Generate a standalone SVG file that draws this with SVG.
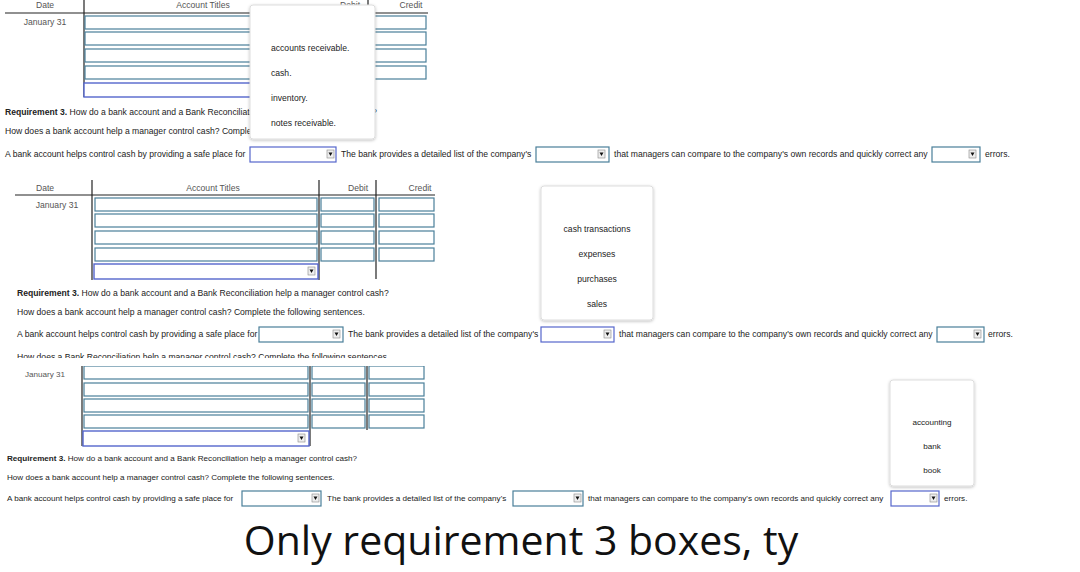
<svg xmlns="http://www.w3.org/2000/svg" width="1080" height="572" viewBox="0 0 1080 572">
<style>
text{font-family:"Liberation Sans",Arial,sans-serif;font-size:8.6px;fill:#222}
#panel3 text,#popup3 text{font-size:8.1px}
.h{fill:#555}
.in{fill:#fff;stroke:#4a7f99;stroke-width:1.2}
.sel{fill:#fff;stroke:#5566cc;stroke-width:1.4}
.dd{fill:#fff;stroke:#5566cc;stroke-width:1.2}
.ln{stroke:#222;stroke-width:1.2}
.pop{fill:#fff;stroke:#ddd;stroke-width:1;filter:url(#sh)}
.big{font-family:"Open Sans",sans-serif;font-size:41px;fill:#111}
</style>
<defs>
<filter id="sh" x="-10%" y="-10%" width="120%" height="120%"><feDropShadow dx="0" dy="1" stdDeviation="1.5" flood-color="#000" flood-opacity="0.25"/></filter>
<g id="arr"><rect x="0" y="0" width="7" height="8" fill="#eee" stroke="#888" stroke-width="0.6"/><path d="M1.5 2.5h4l-2 3.5z" fill="#111"/></g>
<clipPath id="c2"><rect x="0" y="0" width="1080" height="358"/></clipPath>
<clipPath id="c3"><rect x="0" y="366" width="1080" height="200"/></clipPath>
</defs>
<rect width="1080" height="572" fill="#fff"/>

<g id="panel1">
<text x="45" y="8" text-anchor="middle" class="h">Date</text>
<text x="203" y="8" text-anchor="middle" class="h">Account Titles</text>
<text x="350" y="8" text-anchor="middle" class="h">Debit</text>
<text x="411" y="8" text-anchor="middle" class="h">Credit</text>
<line x1="5" y1="13" x2="428" y2="13" class="ln"/>
<line x1="84" y1="0" x2="84" y2="97" class="ln"/>
<line x1="368" y1="0" x2="368" y2="97" class="ln"/>
<text x="45" y="25" text-anchor="middle" class="h">January 31</text>
<rect x="85" y="16" width="280" height="13" class="in"/><rect x="371" y="16" width="55" height="13" class="in"/>
<rect x="85" y="32" width="280" height="13" class="in"/><rect x="371" y="32" width="55" height="13" class="in"/>
<rect x="85" y="49" width="280" height="13" class="in"/><rect x="371" y="49" width="55" height="13" class="in"/>
<rect x="85" y="66" width="280" height="13" class="in"/><rect x="371" y="66" width="55" height="13" class="in"/>
<rect x="84" y="83" width="282" height="14" class="sel"/>
<text x="5" y="115"><tspan font-weight="bold">Requirement 3.</tspan> How do a bank account and a Bank Reconciliation help a manager control cash?</text>
<text x="5" y="134">How does a bank account help a manager control cash? Complete the following sentences.</text>
<text x="5" y="157">A bank account helps control cash by providing a safe place for</text>
<rect x="250" y="147" width="86" height="15" class="dd"/><use href="#arr" x="327" y="150"/>
<text x="341" y="157">The bank provides a detailed list of the company's</text>
<rect x="536" y="147" width="73" height="15" class="in"/><use href="#arr" x="598" y="150"/>
<text x="614" y="157">that managers can compare to the company's own records and quickly correct any</text>
<rect x="932" y="147" width="48" height="15" class="in"/><use href="#arr" x="969" y="150"/>
<text x="985" y="157">errors.</text>
</g>
<g id="popup1">
<rect x="250" y="5" width="125" height="134" rx="3" class="pop"/>
<text x="271" y="51">accounts receivable.</text>
<text x="271" y="76">cash.</text>
<text x="271" y="101">inventory.</text>
<text x="271" y="126">notes receivable.</text>
</g>

<g id="panel2" clip-path="url(#c2)">
<text x="45" y="191" text-anchor="middle" class="h">Date</text>
<text x="213" y="191" text-anchor="middle" class="h">Account Titles</text>
<text x="358" y="191" text-anchor="middle" class="h">Debit</text>
<text x="420" y="191" text-anchor="middle" class="h">Credit</text>
<line x1="15" y1="195" x2="435" y2="195" class="ln"/>
<line x1="92" y1="180" x2="92" y2="280" class="ln"/>
<line x1="319" y1="180" x2="319" y2="280" class="ln"/>
<line x1="376" y1="180" x2="376" y2="279" class="ln"/>
<text x="57" y="208" text-anchor="middle" class="h">January 31</text>
<rect x="95" y="198" width="222" height="13" class="in"/><rect x="321" y="198" width="53" height="13" class="in"/><rect x="379" y="198" width="55" height="13" class="in"/>
<rect x="95" y="214" width="222" height="13" class="in"/><rect x="321" y="214" width="53" height="13" class="in"/><rect x="379" y="214" width="55" height="13" class="in"/>
<rect x="95" y="231" width="222" height="13" class="in"/><rect x="321" y="231" width="53" height="13" class="in"/><rect x="379" y="231" width="55" height="13" class="in"/>
<rect x="95" y="248" width="222" height="13" class="in"/><rect x="321" y="248" width="53" height="13" class="in"/><rect x="379" y="248" width="55" height="13" class="in"/>
<rect x="94" y="264" width="224" height="15" class="sel"/><use href="#arr" x="308" y="267"/>
<text x="17" y="296"><tspan font-weight="bold">Requirement 3.</tspan> How do a bank account and a Bank Reconciliation help a manager control cash?</text>
<text x="17" y="315">How does a bank account help a manager control cash? Complete the following sentences.</text>
<text x="17" y="337">A bank account helps control cash by providing a safe place for</text>
<rect x="259" y="327" width="84" height="15" class="in"/><use href="#arr" x="333" y="330"/>
<text x="348" y="337">The bank provides a detailed list of the company's</text>
<rect x="541" y="327" width="73" height="15" class="dd"/><use href="#arr" x="604" y="330"/>
<text x="619" y="337">that managers can compare to the company's own records and quickly correct any</text>
<rect x="937" y="327" width="47" height="15" class="in"/><use href="#arr" x="974" y="330"/>
<text x="988" y="337">errors.</text>
<text x="17" y="360">How does a Bank Reconciliation help a manager control cash? Complete the following sentences.</text>
</g>
<g id="popup2">
<rect x="541" y="186" width="112" height="134" rx="3" class="pop"/>
<text x="597" y="232" text-anchor="middle">cash transactions</text>
<text x="597" y="257" text-anchor="middle">expenses</text>
<text x="597" y="282" text-anchor="middle">purchases</text>
<text x="597" y="307" text-anchor="middle">sales</text>
</g>

<g id="panel3" clip-path="url(#c3)">
<text x="45" y="377" text-anchor="middle" class="h">January 31</text>
<line x1="82" y1="366" x2="82" y2="446" class="ln"/>
<line x1="310" y1="366" x2="310" y2="446" class="ln"/>
<line x1="367" y1="366" x2="367" y2="430" class="ln"/>
<rect x="84" y="366" width="224" height="13" class="in"/><rect x="312" y="366" width="53" height="13" class="in"/><rect x="369" y="366" width="55" height="13" class="in"/>
<rect x="84" y="383" width="224" height="13" class="in"/><rect x="312" y="383" width="53" height="13" class="in"/><rect x="369" y="383" width="55" height="13" class="in"/>
<rect x="84" y="399" width="224" height="13" class="in"/><rect x="312" y="399" width="53" height="13" class="in"/><rect x="369" y="399" width="55" height="13" class="in"/>
<rect x="84" y="415" width="224" height="13" class="in"/><rect x="312" y="415" width="53" height="13" class="in"/><rect x="369" y="415" width="55" height="13" class="in"/>
<rect x="83" y="431" width="226" height="15" class="sel"/><use href="#arr" x="298" y="434"/>
<text x="7" y="461"><tspan font-weight="bold">Requirement 3.</tspan> How do a bank account and a Bank Reconciliation help a manager control cash?</text>
<text x="7" y="480">How does a bank account help a manager control cash? Complete the following sentences.</text>
<text x="7" y="501">A bank account helps control cash by providing a safe place for</text>
<rect x="242" y="491" width="79" height="15" class="in"/><use href="#arr" x="312" y="494"/>
<text x="327" y="501">The bank provides a detailed list of the company's</text>
<rect x="513" y="491" width="70" height="15" class="in"/><use href="#arr" x="574" y="494"/>
<text x="588" y="501">that managers can compare to the company's own records and quickly correct any</text>
<rect x="891" y="491" width="48" height="15" class="dd"/><use href="#arr" x="930" y="494"/>
<text x="944" y="501">errors.</text>
</g>
<g id="popup3">
<rect x="890" y="380" width="84" height="106" rx="3" class="pop"/>
<text x="932" y="425" text-anchor="middle">accounting</text>
<text x="932" y="449" text-anchor="middle">bank</text>
<text x="932" y="473" text-anchor="middle">book</text>
</g>

<text x="521" y="555" text-anchor="middle" class="big">Only requirement 3 boxes, ty</text>
</svg>
